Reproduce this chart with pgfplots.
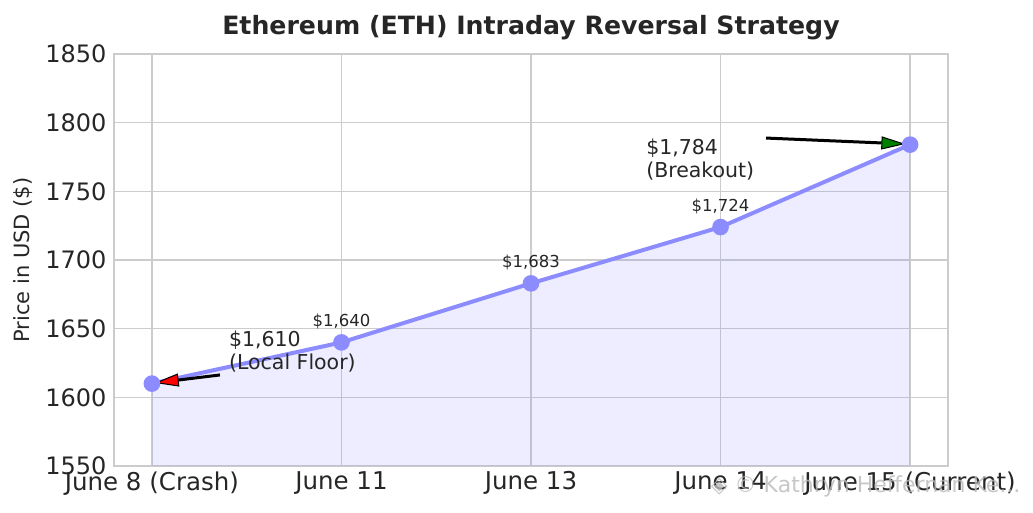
\documentclass[border=0pt]{standalone}
\usepackage{pgfplots}
\pgfplotsset{compat=1.18}
\usepackage{fontspec}
\setmainfont{DejaVu Sans}
\usetikzlibrary{arrows.meta}
\definecolor{lineblue}{HTML}{8C8CFF}
\definecolor{gridgray}{HTML}{CCCCCC}
\definecolor{txt}{HTML}{262626}
\begin{document}
\begin{tikzpicture}[x=1pt,y=1pt]
\path[use as bounding box] (-114,-46) rectangle (919,466);
\begin{axis}[
  at={(0,0)}, anchor=south west,
  scale only axis, width=834pt, height=412pt,
  xmin=-0.2, xmax=4.2, ymin=1550, ymax=1850,
  xtick={0,1,2,3,4},
  xticklabels={June 8 (Crash),June 11,June 13,June 14,June 15 (Current)},
  ytick={1550,1600,1650,1700,1750,1800,1850},
  /pgf/number format/assume math mode=true,
  yticklabel style={/pgf/number format/1000 sep={}, font=\fontsize{24}{28}\selectfont, text=txt, xshift=-4pt},
  xticklabel style={font=\fontsize{24.5}{28}\selectfont, text=txt, yshift=-2pt},
  grid=major,
  major grid style={gridgray, line width=1.5pt},
  axis line style={gridgray, line width=1.5pt},
  tick style={draw=none},
  ylabel={Price in USD (\$)},
  ylabel style={font=\fontsize{21}{25}\selectfont, text=txt, yshift=6pt},
  title={Ethereum (ETH) Intraday Reversal Strategy},
  title style={font=\fontsize{25.2}{30}\selectfont\bfseries, text=txt, yshift=5pt},
  clip=false,
]
\addplot[draw=none, fill=lineblue, fill opacity=0.16] coordinates {(0,1610) (1,1640) (2,1683) (3,1724) (4,1784)} \closedcycle;
\addplot[lineblue, line width=4pt, mark=*, mark size=6.3pt, mark options={fill=lineblue, draw=lineblue}] coordinates {(0,1610) (1,1640) (2,1683) (3,1724) (4,1784)};
\node[font=\fontsize{16.5}{19}\selectfont, text=txt] at (axis cs:1,1655) {\$1,640};
\node[font=\fontsize{16.5}{19}\selectfont, text=txt] at (axis cs:2,1698) {\$1,683};
\node[font=\fontsize{16.5}{19}\selectfont, text=txt] at (axis cs:3,1739) {\$1,724};
\node[anchor=west, align=left, inner sep=0pt, font=\fontsize{20.5}{23}\selectfont, text=txt] at (axis cs:0.406,1633.5) {\$1,610\\(Local Floor)};
\node[anchor=west, align=left, inner sep=0pt, font=\fontsize{20.5}{23}\selectfont, text=txt] at (axis cs:2.607,1773.3) {\$1,784\\(Breakout)};
\draw[black, line width=3pt, -{Triangle[length=24pt, width=13pt, fill=red, line width=1pt]}] (axis cs:0.359,1616.3) -- (axis cs:0.015,1610.5);
\draw[black, line width=3pt, -{Triangle[length=24pt, width=13pt, fill=green!50!black, line width=1pt]}] (axis cs:3.24,1788.8) -- (axis cs:3.975,1784.5);
\node[anchor=west, font=\fontsize{22}{26}\selectfont, text=gray!55, opacity=0.8] at (axis cs:2.93,1535) {◈ © Kathryn Heffernan Ke...};
\end{axis}
\end{tikzpicture}
\end{document}
